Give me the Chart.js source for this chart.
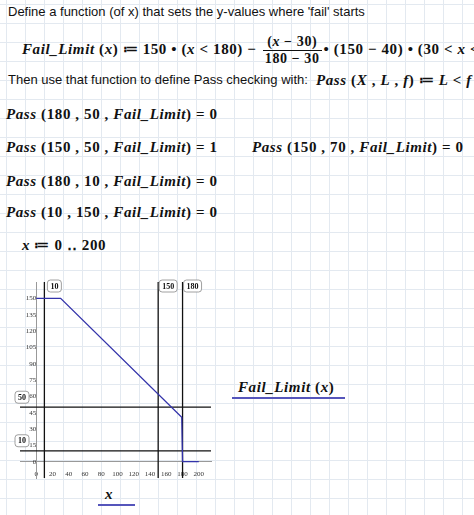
<!DOCTYPE html><html><head><meta charset="utf-8">
<script src="https://cdn.jsdelivr.net/npm/chart.js@4"></script>
<style>
body{margin:0;width:474px;height:515px;position:relative;overflow:hidden;background:#fff;
background-image:linear-gradient(#e3e9f0 1px,transparent 1px),linear-gradient(90deg,#e3e9f0 1px,transparent 1px);background-size:19px 19px;background-position:6px 4px;}
.t{position:absolute;font-family:"Liberation Sans",Arial,sans-serif;font-size:13px;color:#111;white-space:nowrap}
.m{position:absolute;font-family:"Liberation Serif","Times New Roman",serif;font-size:15px;letter-spacing:0.6px;font-weight:bold;color:#111;white-space:nowrap}
.m i{font-style:italic}
.fr{display:inline-block;vertical-align:middle;text-align:center;font-size:14px;margin:0 2px}
.fr span{display:block;line-height:16px;padding:0 2px}
.fr .n{border-bottom:1px solid #111}
.ul{position:absolute;height:2px;background:#5555bb}
canvas{position:absolute;left:0;top:270px}
</style></head><body>
<div class="t" style="left:8px;top:4px">Define a function (of x) that sets the y-values where 'fail' starts</div>
<div class="m" style="left:22px;top:34px"><i>Fail_Limit</i> (<i>x</i>) ≔ 150 • (<i>x</i> &lt; 180) − <span class="fr"><span class="n">(<i>x</i> − 30)</span><span>180 − 30</span></span>• (150 − 40) • (30 &lt; <i>x</i> &lt; 180)</div>
<div class="t" style="left:8px;top:72px">Then use that function to define Pass checking with:</div>
<div class="m" style="left:316px;top:71px"><i>Pass</i> (<i>X</i> , <i>L</i> , <i>f</i>) ≔ <i>L</i> &lt; <i>f</i> (<i>X</i>)</div>
<div class="m" style="left:6px;top:106px"><i>Pass</i> (180 , 50 , <i>Fail_Limit</i>) = 0</div>
<div class="m" style="left:6px;top:139px"><i>Pass</i> (150 , 50 , <i>Fail_Limit</i>) = 1</div>
<div class="m" style="left:252px;top:139px"><i>Pass</i> (150 , 70 , <i>Fail_Limit</i>) = 0</div>
<div class="m" style="left:6px;top:173px"><i>Pass</i> (180 , 10 , <i>Fail_Limit</i>) = 0</div>
<div class="m" style="left:6px;top:204px"><i>Pass</i> (10 , 150 , <i>Fail_Limit</i>) = 0</div>
<div class="m" style="left:22px;top:236px"><i>x</i> ≔ 0 ‥ 200</div>
<div class="m" style="left:238px;top:379px"><i>Fail_Limit</i> (<i>x</i>)</div>
<div class="ul" style="left:232px;top:397px;width:113px"></div>
<div class="m" style="left:105px;top:486px"><i>x</i></div>
<div class="ul" style="left:98px;top:504px;width:37px"></div>
<canvas id="c" width="230" height="215"></canvas>
<script>
const xs=[0,30,179,180,200];
const ys=[150,150,40.7,0,0];
const vMarks=[10,150,180];
const hMarks=[50,10];
const xTicks=[0,20,40,60,80,100,120,140,160,180,200];
const yTicks=[0,15,30,45,60,75,90,105,120,135,150];
const X0=-20,X1=215,Y0=-15,Y1=165;
const ds=[{data:xs.map((x,i)=>({x,y:ys[i]})),borderColor:'#3333aa',borderWidth:1.3}];
vMarks.forEach(v=>ds.push({data:[{x:v,y:Y0},{x:v,y:Y1}],borderColor:'#111',borderWidth:1.3}));
hMarks.forEach(h=>ds.push({data:[{x:X0,y:h},{x:X1,y:h}],borderColor:'#111',borderWidth:1.3}));
ds.forEach(d=>{d.showLine=true;d.pointRadius=0;d.fill=false;});
function box(ctx,txt,cx,cy){ctx.font='bold 8px "Liberation Serif"';const w=ctx.measureText(txt).width+6,h=12;
ctx.fillStyle='#fff';ctx.strokeStyle='#888';ctx.lineWidth=0.8;ctx.beginPath();ctx.roundRect(cx-w/2,cy-h/2,w,h,3);ctx.fill();ctx.stroke();
ctx.fillStyle='#111';ctx.textAlign='center';ctx.textBaseline='middle';ctx.fillText(txt,cx,cy+0.5);}
const marks={id:'marks',afterDraw(c){const ctx=c.ctx,x=c.scales.x,y=c.scales.y;ctx.save();
vMarks.forEach(v=>box(ctx,String(v),x.getPixelForValue(v)+10,c.chartArea.top+4));
hMarks.forEach(h=>box(ctx,String(h),c.chartArea.left+2,y.getPixelForValue(h)-10));
ctx.restore();}};
new Chart(document.getElementById('c'),{type:'scatter',data:{datasets:ds},plugins:[marks],
options:{responsive:false,animation:false,layout:{padding:{left:20,top:12,right:19,bottom:7}},
plugins:{legend:{display:false},tooltip:{enabled:false}},
scales:{x:{type:'linear',min:X0,max:X1,position:{y:0},afterBuildTicks:s=>{s.ticks=xTicks.map(v=>({value:v}))},
grid:{display:false},border:{color:'#999'},ticks:{font:{size:7,family:'Liberation Serif'},color:'#333',padding:0}},
y:{type:'linear',min:Y0,max:Y1,position:{x:0},afterBuildTicks:s=>{s.ticks=yTicks.map(v=>({value:v}))},
grid:{display:false},border:{color:'#999'},ticks:{font:{size:7,family:'Liberation Serif'},color:'#333',padding:1}}}}});
</script></body></html>
